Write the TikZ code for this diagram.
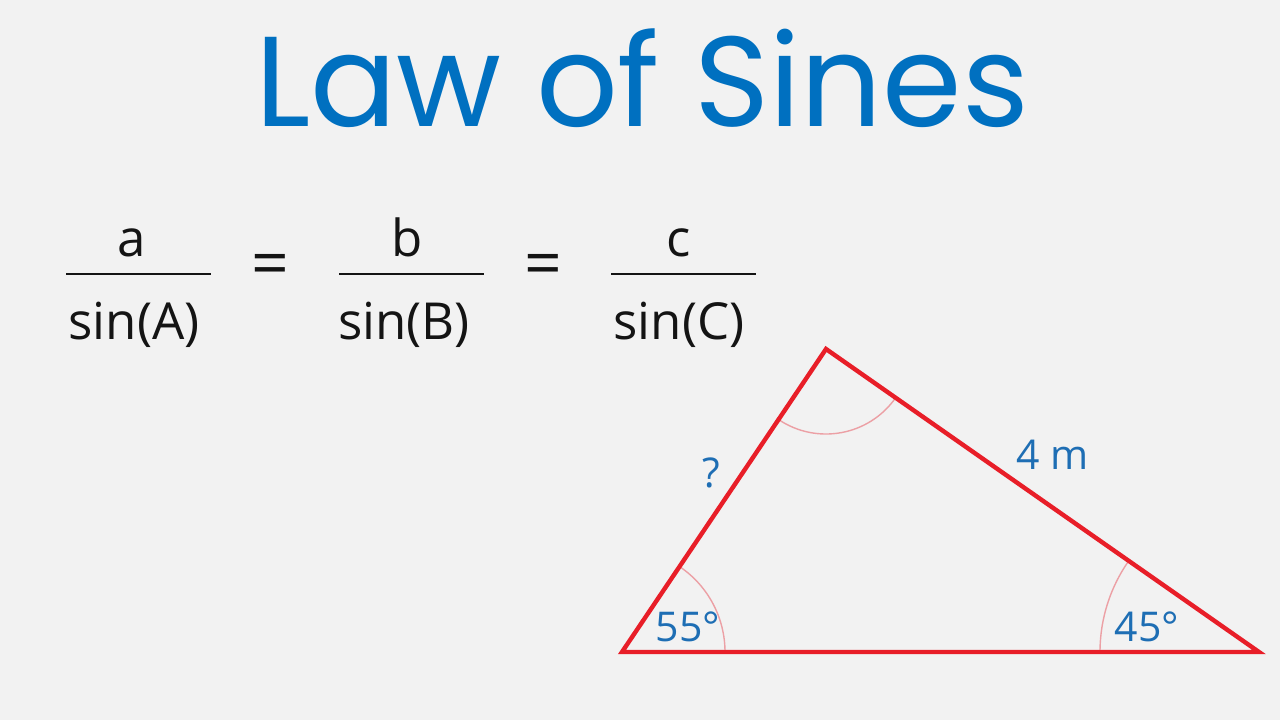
\documentclass[tikz,border=0pt]{standalone}
\usepackage{fontspec}
\setmainfont{Open Sans}
\newfontfamily\titlefont{Poppins}
\definecolor{bg}{RGB}{242,242,242}
\definecolor{titleblue}{RGB}{0,112,192}
\definecolor{lblblue}{RGB}{30,110,180}
\definecolor{trired}{RGB}{232,30,40}
\definecolor{arcpink}{RGB}{236,160,165}
\definecolor{ink}{RGB}{20,20,20}
\begin{document}
\begin{tikzpicture}[x=0.5pt,y=-0.5pt,
  num/.style={anchor=base,inner sep=0pt,text=ink,font=\fontsize{25.5}{30}\selectfont},
  eqsign/.style={anchor=center,inner sep=0pt,text=ink,font=\fontsize{33}{36}\selectfont},
  fracbar/.style={draw=ink,line width=1pt},
  side/.style={draw=trired,line width=2.2pt,line join=miter},
  anglearc/.style={draw=arcpink,line width=0.7pt},
  lbl/.style={anchor=base,inner sep=0pt,text=lblblue,font=\fontsize{20.5}{24}\selectfont}]
\fill[bg] (0,0) rectangle (1280,720);
\useasboundingbox (0,0) rectangle (1280,720);
% title
\node[anchor=base,inner sep=0pt,text=titleblue,font=\titlefont\fontsize{64}{72}\selectfont] (title) at (642,126) {Law of Sines};
% formula
\node[num] (na) at (132,256) {a};
\node[num] (nb) at (407,256) {b};
\node[num] (nc) at (679,256) {c};
\node[num] (da) at (134,339) {sin(A)};
\node[num] (db) at (404,339) {sin(B)};
\node[num] (dc) at (679,339) {sin(C)};
\coordinate (la1) at (66,274); \coordinate (la2) at (211,274);
\coordinate (lb1) at (339,274); \coordinate (lb2) at (484,274);
\coordinate (lc1) at (611,274); \coordinate (lc2) at (756,274);
\draw[fracbar] (la1) -- (la2);
\draw[fracbar] (lb1) -- (lb2);
\draw[fracbar] (lc1) -- (lc2);
\node[eqsign] (eq1) at (270,270) {=};
\node[eqsign] (eq2) at (543,270) {=};
% triangle
\coordinate (A) at (622,652);
\coordinate (B) at (826,349);
\coordinate (C) at (1259,652);
\draw[anglearc] (A) ++(51.5pt,0pt) arc[start angle=0,end angle=56,radius=51.5pt];
\draw[anglearc] (C) ++(-79.5pt,0pt) arc[start angle=180,end angle=145,radius=79.5pt];
\draw[anglearc] (B) ++(236:42.5pt) arc[start angle=236,end angle=325,radius=42.5pt];
\draw[side] (A) -- (B) -- (C) -- cycle;
\node[lbl] (l55) at (688,641) {55°};
\node[lbl] (l45) at (1147,641) {45°};
\node[lbl] (lq) at (711,487) {?};
\node[lbl] (l4m) at (1053,469) {4 m};
\end{tikzpicture}
\end{document}
